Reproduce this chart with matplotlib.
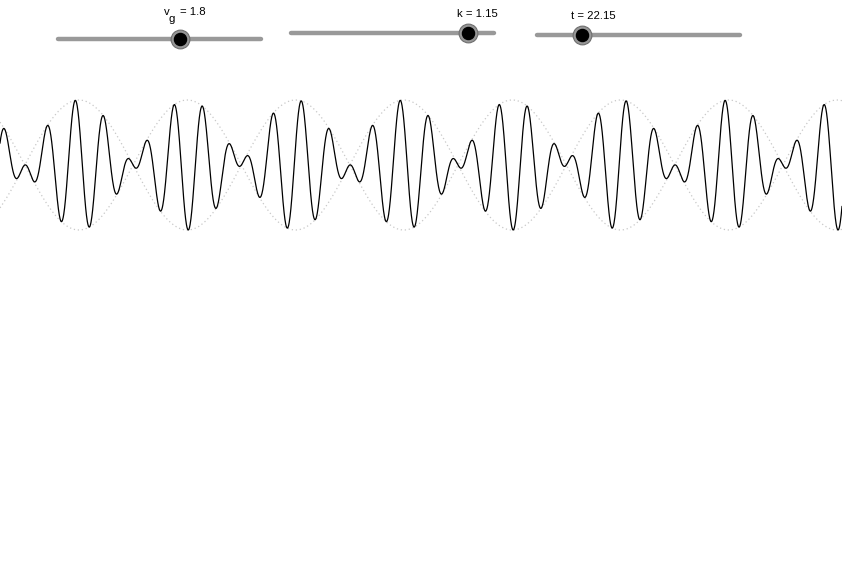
import numpy as np
import matplotlib.pyplot as plt

plt.rcParams['font.family'] = ['Liberation Sans', 'DejaVu Sans']

# slider values (name, value, min, max)
slider_names = ['v', 'k', 't']
slider_subs = ['g', '', '']
slider_vals = [1.8, 1.15, 22.15]
slider_mins = [0, 0, 0]
slider_maxs = [3, 1.32, 100]

vg = slider_vals[0]
k = slider_vals[1]
t = slider_vals[2]
dk = 0.15      # envelope wave number
vp = 1.85      # phase velocity of carrier

# layout in pixels
W, H = 842, 576
px_per_unit = 5.171
x_origin_px = 89.4
y_center_px = 165
amp_px = 65

fig = plt.figure(figsize=(W / 100, H / 100), dpi=100)
fig.patch.set_facecolor('white')

# graph area
ax = fig.add_axes([0, 0, 1, 1])
x0 = -x_origin_px / px_per_unit
x1 = (W - x_origin_px) / px_per_unit
ax.set_xlim(x0, x1)
ax.set_ylim(-(H - y_center_px) / amp_px, y_center_px / amp_px)
ax.axis('off')

x = np.linspace(x0, x1, 3000)
env = np.cos(dk * (x - vg * t))
wave = env * np.cos(k * (x - vp * t))

ax.plot(x, env, color='#c8c8c8', lw=0.9, ls=(0, (1, 2.2)))
ax.plot(x, -env, color='#c8c8c8', lw=0.9, ls=(0, (1, 2.2)))
ax.plot(x, wave, color='black', lw=0.9)

# sliders drawn in pixel coordinates
sx = fig.add_axes([0, 0, 1, 1])
sx.set_xlim(0, W)
sx.set_ylim(H, 0)
sx.axis('off')
sx.patch.set_alpha(0)

start_px = [58, 291, 537]
line_y = [39, 33, 35]
length_px = 203
label_x = [164, 457, 571]
label_y = [12, 14, 16]

for i in range(3):
    xa = start_px[i]
    xb = xa + length_px
    sx.plot([xa, xb], [line_y[i], line_y[i]], color='#999999', lw=3.2,
            solid_capstyle='round')
    frac = (slider_vals[i] - slider_mins[i]) / (slider_maxs[i] - slider_mins[i])
    xd = xa + frac * length_px
    sx.plot(xd, line_y[i], 'o', ms=13.5, color='#979797', mec='#6e6e6e', mew=0.8)
    sx.plot(xd, line_y[i], 'o', ms=8.7, color='black')
    if slider_subs[i]:
        sx.text(label_x[i], label_y[i], slider_names[i], fontsize=8.2,
                ha='left', va='center')
        sx.text(label_x[i] + 4.8, label_y[i] + 7, slider_subs[i], fontsize=8.2,
                ha='left', va='center')
        sx.text(label_x[i] + 16, label_y[i], '= ' + str(slider_vals[i]),
                fontsize=8.2, ha='left', va='center')
    else:
        sx.text(label_x[i], label_y[i], slider_names[i] + ' = ' + str(slider_vals[i]),
                fontsize=8.2, ha='left', va='center')

fig.savefig('out.png', dpi=100, facecolor='white')
